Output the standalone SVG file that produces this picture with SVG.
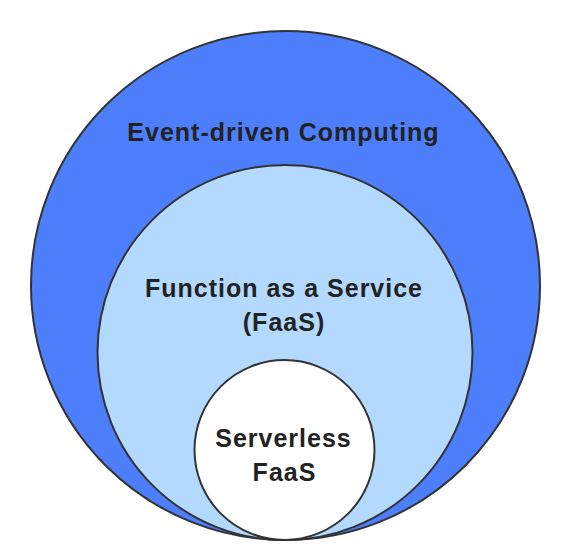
<svg xmlns="http://www.w3.org/2000/svg" width="570" height="560" viewBox="0 0 570 560">
<style>
.c{stroke:#333;stroke-width:2}
.t{font-family:"Liberation Sans",Arial,sans-serif;font-weight:bold;font-size:25px;letter-spacing:1px;fill:#222;text-anchor:middle}
</style>
<rect width="570" height="560" fill="#fff"/>
<g id="event-driven">
<circle class="c" cx="285.5" cy="285.5" r="254.5" fill="#4d7efc"/>
<text class="t" x="283.5" y="140.5">Event-driven Computing</text>
</g>
<g id="faas">
<circle class="c" cx="285" cy="352.5" r="187.5" fill="#b3dafe"/>
<text class="t" x="284" y="296.5">Function as a Service</text>
<text class="t" x="284" y="330.5">(FaaS)</text>
</g>
<g id="serverless">
<circle class="c" cx="284.5" cy="450" r="90" fill="#fff"/>
<text class="t" x="283.5" y="447">Serverless</text>
<text class="t" x="284.5" y="480.5">FaaS</text>
</g>
<g id="connectors"/>
</svg>
